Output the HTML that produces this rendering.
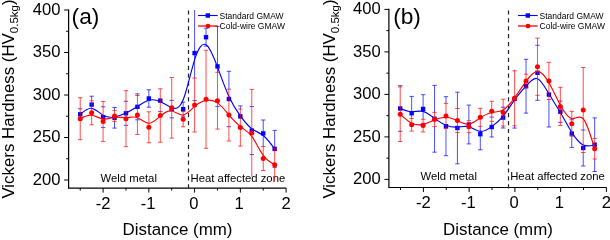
<!DOCTYPE html>
<html><head><meta charset="utf-8"><style>
html,body{margin:0;padding:0;background:#fff;width:610px;height:239px;overflow:hidden}
svg{display:block;font-family:"Liberation Sans", sans-serif;will-change:transform}
</style></head><body>
<svg width="610" height="239" viewBox="0 0 610 239" font-family='"Liberation Sans", sans-serif' fill="#000">
<g transform="translate(0.00 0.00)">
<path d="M68.60 9.4 V188.10 H286.10" stroke="#000" stroke-width="1.2" fill="none"/>
<path d="M64.10 180.00 H68.60 M64.10 137.50 H68.60 M64.10 95.00 H68.60 M64.10 52.50 H68.60 M64.10 10.00 H68.60 M66.10 158.75 H68.60 M66.10 116.25 H68.60 M66.10 73.75 H68.60 M66.10 31.25 H68.60 M103.10 188.10 V192.60 M148.85 188.10 V192.60 M194.60 188.10 V192.60 M240.35 188.10 V192.60 M286.10 188.10 V192.60 M80.22 188.10 V190.60 M125.97 188.10 V190.60 M171.72 188.10 V190.60 M217.47 188.10 V190.60 M263.23 188.10 V190.60" stroke="#000" stroke-width="1" fill="none"/>
<text x="60.40" y="184.90" font-size="16.6" text-anchor="end">200</text>
<text x="60.40" y="142.40" font-size="16.6" text-anchor="end">250</text>
<text x="60.40" y="99.90" font-size="16.6" text-anchor="end">300</text>
<text x="60.40" y="57.40" font-size="16.6" text-anchor="end">350</text>
<text x="60.40" y="14.90" font-size="16.6" text-anchor="end">400</text>
<text x="103.10" y="208.60" font-size="16.6" text-anchor="middle">-2</text>
<text x="148.05" y="208.60" font-size="16.6" text-anchor="middle">-1</text>
<text x="193.80" y="208.60" font-size="16.6" text-anchor="middle">0</text>
<text x="239.05" y="208.60" font-size="16.6" text-anchor="middle">1</text>
<text x="286.10" y="208.60" font-size="16.6" text-anchor="middle">2</text>
</g>
<text x="177.50" y="235.3" font-size="16.9" text-anchor="middle">Distance (mm)</text>
<text transform="translate(13.60 99) rotate(-90)" font-size="16.85" text-anchor="middle">Vickers Hardness (HV<tspan font-size="11.5" dy="4">0.5kg</tspan><tspan dy="-4">)</tspan></text>
<path d="M188.50 10.4 V188.5" stroke="#222" stroke-width="1.2" stroke-dasharray="4.2 3.7" fill="none"/>
<text x="71.60" y="24.10" font-size="22.7">(a)</text>
<text x="100.60" y="181.50" font-size="11.3">Weld metal</text>
<text x="190.60" y="181.50" font-size="11.3">Heat affected zone</text>
<path d="M78.02 108.80 H82.42 M78.02 119.80 H82.42 M91.66 96.20 V100.80 M89.46 96.20 H93.86 M89.46 113.00 H93.86 M100.90 106.80 H105.30 M100.90 127.60 H105.30 M114.54 107.50 V110.40 M114.54 121.40 V128.10 M112.34 107.50 H116.74 M112.34 128.10 H116.74 M123.77 101.30 H128.17 M123.77 125.30 H128.17 M137.41 93.80 V95.50 M135.21 93.80 H139.61 M135.21 119.80 H139.61 M148.85 89.80 V107.20 M146.65 89.80 H151.05 M146.65 107.20 H151.05 M158.09 111.60 H162.49 M169.53 100.40 H173.92 M169.53 117.80 H173.92 M183.16 102.20 V111.60 M180.96 102.20 H185.36 M180.96 116.20 H185.36 M194.60 10.00 V78.00 M192.40 100.60 H196.80 M206.04 28.20 V46.20 M203.84 28.20 H208.24 M203.84 46.20 H208.24 M217.47 26.40 V72.30 M215.28 26.40 H219.67 M215.28 106.40 H219.67 M228.91 71.30 V89.20 M226.71 71.30 H231.11 M226.71 126.70 H231.11 M240.35 105.90 V109.10 M238.15 105.90 H242.55 M238.15 126.90 H242.55 M249.59 106.60 H253.99 M249.59 154.60 H253.99 M263.23 120.00 V146.50 M261.03 120.00 H265.43 M274.66 130.40 V148.20 M272.46 130.40 H276.86 M272.46 167.40 H276.86" stroke="#0000ff" stroke-width="0.7" fill="none"/>
<path d="M80.23 114.30 C84.04 111.07 87.85 107.83 91.66 108.32 C95.47 108.80 99.29 113.00 103.10 115.20 C106.91 117.40 110.72 117.60 114.54 116.95 C118.35 116.30 122.16 114.80 125.98 112.97 C129.79 111.13 133.60 108.97 137.41 106.50 C141.22 104.03 145.04 101.27 148.85 100.23 C152.66 99.20 156.47 99.90 160.29 101.67 C164.10 103.43 167.91 106.27 171.72 107.70 C175.54 109.13 179.35 109.17 183.16 99.83 C186.97 90.50 190.79 71.80 194.60 59.80 C198.41 47.80 202.22 42.50 206.04 44.72 C209.85 46.93 213.66 56.67 217.47 66.97 C221.29 77.27 225.10 88.13 228.91 96.47 C232.72 104.80 236.54 110.60 240.35 115.87 C244.16 121.13 247.97 125.87 251.79 128.70 C255.60 131.53 259.41 132.47 263.22 135.52 C267.04 138.57 270.85 143.73 274.66 148.90" stroke="#0000ff" stroke-width="1.15" fill="none"/>
<rect x="78.02" y="112.10" width="4.4" height="4.4" fill="#0000ff"/>
<rect x="89.46" y="102.40" width="4.4" height="4.4" fill="#0000ff"/>
<rect x="100.90" y="115.00" width="4.4" height="4.4" fill="#0000ff"/>
<rect x="112.34" y="115.60" width="4.4" height="4.4" fill="#0000ff"/>
<rect x="123.77" y="111.10" width="4.4" height="4.4" fill="#0000ff"/>
<rect x="135.21" y="104.60" width="4.4" height="4.4" fill="#0000ff"/>
<rect x="146.65" y="96.30" width="4.4" height="4.4" fill="#0000ff"/>
<rect x="158.09" y="98.40" width="4.4" height="4.4" fill="#0000ff"/>
<rect x="169.53" y="106.90" width="4.4" height="4.4" fill="#0000ff"/>
<rect x="180.96" y="107.00" width="4.4" height="4.4" fill="#0000ff"/>
<rect x="192.40" y="50.90" width="4.4" height="4.4" fill="#0000ff"/>
<rect x="203.84" y="35.00" width="4.4" height="4.4" fill="#0000ff"/>
<rect x="215.28" y="64.20" width="4.4" height="4.4" fill="#0000ff"/>
<rect x="226.71" y="96.80" width="4.4" height="4.4" fill="#0000ff"/>
<rect x="238.15" y="114.20" width="4.4" height="4.4" fill="#0000ff"/>
<rect x="249.59" y="128.40" width="4.4" height="4.4" fill="#0000ff"/>
<rect x="261.03" y="131.20" width="4.4" height="4.4" fill="#0000ff"/>
<rect x="272.46" y="146.70" width="4.4" height="4.4" fill="#0000ff"/>
<path d="M80.22 97.70 V139.70 M78.02 97.70 H82.42 M78.02 139.70 H82.42 M91.66 100.80 V124.80 M89.46 100.80 H93.86 M89.46 124.80 H93.86 M103.10 101.40 V141.40 M100.90 101.40 H105.30 M100.90 141.40 H105.30 M114.54 110.40 V121.40 M112.34 110.40 H116.74 M112.34 121.40 H116.74 M125.97 90.70 V146.70 M123.77 90.70 H128.17 M123.77 146.70 H128.17 M137.41 95.50 V134.50 M135.21 95.50 H139.61 M135.21 134.50 H139.61 M148.85 111.80 V142.80 M146.65 111.80 H151.05 M146.65 142.80 H151.05 M160.29 88.80 V142.20 M158.09 88.80 H162.49 M158.09 142.20 H162.49 M171.72 77.50 V138.10 M169.53 77.50 H173.92 M169.53 138.10 H173.92 M183.16 111.60 V126.80 M180.96 111.60 H185.36 M180.96 126.80 H185.36 M194.60 78.00 V132.00 M192.40 78.00 H196.80 M192.40 132.00 H196.80 M206.04 50.30 V148.30 M203.84 50.30 H208.24 M203.84 148.30 H208.24 M217.47 72.30 V129.10 M215.28 72.30 H219.67 M215.28 129.10 H219.67 M228.91 89.20 V141.00 M226.71 89.20 H231.11 M226.71 141.00 H231.11 M240.35 109.10 V146.10 M238.15 109.10 H242.55 M238.15 146.10 H242.55 M251.79 89.40 V176.80 M249.59 89.40 H253.99 M263.23 146.50 V170.50 M261.03 146.50 H265.43 M261.03 170.50 H265.43 M274.66 148.20 V181.20 M272.46 148.20 H276.86" stroke="#ff0000" stroke-width="0.7" fill="none"/>
<path d="M80.23 118.70 C84.04 116.73 87.85 114.77 91.66 115.22 C95.47 115.67 99.29 118.53 103.10 119.05 C106.91 119.57 110.72 117.73 114.54 117.28 C118.35 116.83 122.16 117.77 125.98 117.62 C129.79 117.47 133.60 116.23 137.41 117.67 C141.22 119.10 145.04 123.20 148.85 123.28 C152.66 123.37 156.47 119.43 160.29 116.18 C164.10 112.93 167.91 110.37 171.72 110.98 C175.54 111.60 179.35 115.40 183.16 114.93 C186.97 114.47 190.79 109.73 194.60 106.42 C198.41 103.10 202.22 101.20 206.04 100.48 C209.85 99.77 213.66 100.23 217.47 102.87 C221.29 105.50 225.10 110.30 228.91 114.78 C232.72 119.27 236.54 123.43 240.35 126.43 C244.16 129.43 247.97 131.27 251.79 136.42 C255.60 141.57 259.41 150.03 263.22 155.30 C267.04 160.57 270.85 162.63 274.66 164.70" stroke="#ff0000" stroke-width="1.15" fill="none"/>
<circle cx="80.22" cy="118.70" r="2.5" fill="#ff0000"/>
<circle cx="91.66" cy="112.80" r="2.5" fill="#ff0000"/>
<circle cx="103.10" cy="121.40" r="2.5" fill="#ff0000"/>
<circle cx="114.54" cy="115.90" r="2.5" fill="#ff0000"/>
<circle cx="125.97" cy="118.70" r="2.5" fill="#ff0000"/>
<circle cx="137.41" cy="115.00" r="2.5" fill="#ff0000"/>
<circle cx="148.85" cy="127.30" r="2.5" fill="#ff0000"/>
<circle cx="160.29" cy="115.50" r="2.5" fill="#ff0000"/>
<circle cx="171.72" cy="107.80" r="2.5" fill="#ff0000"/>
<circle cx="183.16" cy="119.20" r="2.5" fill="#ff0000"/>
<circle cx="194.60" cy="105.00" r="2.5" fill="#ff0000"/>
<circle cx="206.04" cy="99.30" r="2.5" fill="#ff0000"/>
<circle cx="217.47" cy="100.70" r="2.5" fill="#ff0000"/>
<circle cx="228.91" cy="115.10" r="2.5" fill="#ff0000"/>
<circle cx="240.35" cy="127.60" r="2.5" fill="#ff0000"/>
<circle cx="251.79" cy="133.10" r="2.5" fill="#ff0000"/>
<circle cx="263.23" cy="158.50" r="2.5" fill="#ff0000"/>
<circle cx="274.66" cy="164.70" r="2.5" fill="#ff0000"/>
<path d="M198.00 15.5 H217.70" stroke="#0000ff" stroke-width="1.1"/>
<rect x="205.60" y="13.3" width="4.4" height="4.4" fill="#0000ff"/>
<path d="M198.00 26.0 H217.70" stroke="#ff0000" stroke-width="1.3"/>
<circle cx="208.00" cy="26.1" r="2.4" fill="#ff0000"/>
<text x="219.60" y="18.7" font-size="8.5">Standard GMAW</text>
<text x="219.60" y="29" font-size="8.5">Cold-wire GMAW</text>
<g transform="translate(0.30 -0.60)">
<path d="M388.60 9.4 V188.10 H606.10" stroke="#000" stroke-width="1.2" fill="none"/>
<path d="M384.10 180.00 H388.60 M384.10 137.50 H388.60 M384.10 95.00 H388.60 M384.10 52.50 H388.60 M384.10 10.00 H388.60 M386.10 158.75 H388.60 M386.10 116.25 H388.60 M386.10 73.75 H388.60 M386.10 31.25 H388.60 M423.10 188.10 V192.60 M468.85 188.10 V192.60 M514.60 188.10 V192.60 M560.35 188.10 V192.60 M606.10 188.10 V192.60 M400.23 188.10 V190.60 M445.98 188.10 V190.60 M491.73 188.10 V190.60 M537.48 188.10 V190.60 M583.23 188.10 V190.60" stroke="#000" stroke-width="1" fill="none"/>
<text x="380.40" y="184.90" font-size="16.6" text-anchor="end">200</text>
<text x="380.40" y="142.40" font-size="16.6" text-anchor="end">250</text>
<text x="380.40" y="99.90" font-size="16.6" text-anchor="end">300</text>
<text x="380.40" y="57.40" font-size="16.6" text-anchor="end">350</text>
<text x="380.40" y="14.90" font-size="16.6" text-anchor="end">400</text>
<text x="423.10" y="208.60" font-size="16.6" text-anchor="middle">-2</text>
<text x="468.05" y="208.60" font-size="16.6" text-anchor="middle">-1</text>
<text x="513.80" y="208.60" font-size="16.6" text-anchor="middle">0</text>
<text x="559.05" y="208.60" font-size="16.6" text-anchor="middle">1</text>
<text x="606.10" y="208.60" font-size="16.6" text-anchor="middle">2</text>
</g>
<text x="497.98" y="235.3" font-size="16.9" text-anchor="middle">Distance (mm)</text>
<text transform="translate(334.56 99) rotate(-90)" font-size="16.85" text-anchor="middle">Vickers Hardness (HV<tspan font-size="11.5" dy="4">0.5kg</tspan><tspan dy="-4">)</tspan></text>
<path d="M508.50 10.4 V188.5" stroke="#222" stroke-width="1.2" stroke-dasharray="4.2 3.7" fill="none"/>
<text x="393.20" y="24.10" font-size="22.7">(b)</text>
<text x="420.60" y="179.80" font-size="11.3">Weld metal</text>
<text x="510.20" y="179.80" font-size="11.3">Heat affected zone</text>
<path d="M400.23 85.70 V86.90 M398.03 85.70 H402.43 M398.03 131.30 H402.43 M411.66 96.40 V118.50 M409.46 96.40 H413.86 M423.10 94.70 V119.30 M420.90 94.70 H425.30 M420.90 123.30 H425.30 M434.54 85.40 V112.40 M434.54 126.40 V152.20 M432.34 85.40 H436.74 M432.34 152.20 H436.74 M445.98 96.70 V103.40 M445.98 128.40 V155.70 M443.78 96.70 H448.18 M443.78 155.70 H448.18 M457.41 92.20 V108.50 M457.41 132.50 V163.80 M455.21 92.20 H459.61 M455.21 163.80 H459.61 M468.85 105.10 V120.70 M468.85 132.70 V143.90 M466.65 105.10 H471.05 M466.65 143.90 H471.05 M480.29 126.30 V149.80 M478.09 118.60 H482.49 M478.09 149.80 H482.49 M491.73 121.30 V137.00 M489.53 117.00 H493.93 M489.53 137.00 H493.93 M503.16 126.00 V128.00 M500.96 107.20 H505.36 M500.96 128.00 H505.36 M514.60 69.70 V70.80 M514.60 125.80 V128.10 M512.40 128.10 H516.80 M526.04 59.30 V74.20 M526.04 87.60 V113.10 M523.84 59.30 H528.24 M523.84 113.10 H528.24 M537.48 95.30 V100.30 M535.27 45.30 H539.68 M535.27 100.30 H539.68 M548.91 62.20 V62.30 M548.91 99.50 V127.00 M546.71 127.00 H551.11 M558.15 101.10 H562.55 M558.15 122.30 H562.55 M571.79 136.20 V147.40 M569.59 119.80 H573.99 M569.59 147.40 H573.99 M583.23 152.50 V166.00 M581.02 130.00 H585.43 M581.02 166.00 H585.43 M594.66 117.90 V138.40 M594.66 159.00 V171.50 M592.46 117.90 H596.86 M592.46 171.50 H596.86" stroke="#0000ff" stroke-width="0.7" fill="none"/>
<path d="M400.22 108.50 C404.04 110.07 407.85 111.63 411.66 111.72 C415.48 111.80 419.29 110.40 423.10 111.33 C426.91 112.27 430.73 115.53 434.54 118.40 C438.35 121.27 442.16 123.73 445.97 125.27 C449.79 126.80 453.60 127.40 457.41 127.12 C461.23 126.83 465.04 125.67 468.85 126.70 C472.66 127.73 476.48 130.97 480.29 131.38 C484.10 131.80 487.91 129.40 491.72 126.63 C495.54 123.87 499.35 120.73 503.16 116.05 C506.98 111.37 510.79 105.13 514.60 99.90 C518.41 94.67 522.23 90.43 526.04 86.08 C529.85 81.73 533.66 77.27 537.48 78.67 C541.29 80.07 545.10 87.33 548.91 93.82 C552.73 100.30 556.54 106.00 560.35 112.50 C564.16 119.00 567.98 126.30 571.79 132.35 C575.60 138.40 579.41 143.20 583.23 145.05 C587.04 146.90 590.85 145.80 594.66 144.70" stroke="#0000ff" stroke-width="1.15" fill="none"/>
<rect x="398.03" y="106.30" width="4.4" height="4.4" fill="#0000ff"/>
<rect x="409.46" y="111.00" width="4.4" height="4.4" fill="#0000ff"/>
<rect x="420.90" y="106.80" width="4.4" height="4.4" fill="#0000ff"/>
<rect x="432.34" y="116.60" width="4.4" height="4.4" fill="#0000ff"/>
<rect x="443.78" y="124.00" width="4.4" height="4.4" fill="#0000ff"/>
<rect x="455.21" y="125.80" width="4.4" height="4.4" fill="#0000ff"/>
<rect x="466.65" y="122.30" width="4.4" height="4.4" fill="#0000ff"/>
<rect x="478.09" y="132.00" width="4.4" height="4.4" fill="#0000ff"/>
<rect x="489.53" y="124.80" width="4.4" height="4.4" fill="#0000ff"/>
<rect x="500.96" y="115.40" width="4.4" height="4.4" fill="#0000ff"/>
<rect x="512.40" y="96.70" width="4.4" height="4.4" fill="#0000ff"/>
<rect x="523.84" y="84.00" width="4.4" height="4.4" fill="#0000ff"/>
<rect x="535.27" y="70.60" width="4.4" height="4.4" fill="#0000ff"/>
<rect x="546.71" y="92.40" width="4.4" height="4.4" fill="#0000ff"/>
<rect x="558.15" y="109.50" width="4.4" height="4.4" fill="#0000ff"/>
<rect x="569.59" y="131.40" width="4.4" height="4.4" fill="#0000ff"/>
<rect x="581.02" y="145.80" width="4.4" height="4.4" fill="#0000ff"/>
<rect x="592.46" y="142.50" width="4.4" height="4.4" fill="#0000ff"/>
<path d="M400.23 86.90 V141.50 M398.03 86.90 H402.43 M398.03 141.50 H402.43 M411.66 118.50 V131.10 M409.46 118.50 H413.86 M409.46 131.10 H413.86 M423.10 119.30 V131.90 M420.90 119.30 H425.30 M420.90 131.90 H425.30 M434.54 112.40 V126.40 M432.34 112.40 H436.74 M432.34 126.40 H436.74 M445.98 103.40 V128.40 M443.78 103.40 H448.18 M443.78 128.40 H448.18 M457.41 108.50 V132.50 M455.21 108.50 H459.61 M455.21 132.50 H459.61 M468.85 120.70 V132.70 M466.65 120.70 H471.05 M466.65 132.70 H471.05 M480.29 108.30 V126.30 M478.09 108.30 H482.49 M478.09 126.30 H482.49 M491.73 101.30 V121.30 M489.53 101.30 H493.93 M489.53 121.30 H493.93 M503.16 99.20 V126.00 M500.96 99.20 H505.36 M500.96 126.00 H505.36 M514.60 70.80 V125.80 M512.40 70.80 H516.80 M512.40 125.80 H516.80 M526.04 74.20 V87.60 M523.84 74.20 H528.24 M523.84 87.60 H528.24 M537.48 38.10 V95.30 M535.27 38.10 H539.68 M535.27 95.30 H539.68 M548.91 62.30 V99.50 M546.71 62.30 H551.11 M546.71 99.50 H551.11 M560.35 87.30 V125.50 M558.15 87.30 H562.55 M558.15 125.50 H562.55 M571.79 111.40 V136.20 M569.59 111.40 H573.99 M569.59 136.20 H573.99 M583.23 67.50 V152.50 M581.02 67.50 H585.43 M581.02 152.50 H585.43 M594.66 138.40 V159.00 M592.46 138.40 H596.86 M592.46 159.00 H596.86" stroke="#ff0000" stroke-width="0.7" fill="none"/>
<path d="M400.22 114.20 C404.04 117.73 407.85 121.27 411.66 123.17 C415.48 125.07 419.29 125.33 423.10 124.43 C426.91 123.53 430.73 121.47 434.54 119.85 C438.35 118.23 442.16 117.07 445.97 117.25 C449.79 117.43 453.60 118.97 457.41 120.77 C461.23 122.57 465.04 124.63 468.85 124.10 C472.66 123.57 476.48 120.43 480.29 117.87 C484.10 115.30 487.91 113.30 491.72 112.52 C495.54 111.73 499.35 112.17 503.16 110.00 C506.98 107.83 510.79 103.07 514.60 97.78 C518.41 92.50 522.23 86.70 526.04 81.43 C529.85 76.17 533.66 71.43 537.48 71.43 C541.29 71.43 545.10 76.17 548.91 82.78 C552.73 89.40 556.54 97.90 560.35 105.05 C564.16 112.20 567.98 118.00 571.79 118.60 C575.60 119.20 579.41 114.60 583.23 118.75 C587.04 122.90 590.85 135.80 594.66 148.70" stroke="#ff0000" stroke-width="1.15" fill="none"/>
<circle cx="400.23" cy="114.20" r="2.5" fill="#ff0000"/>
<circle cx="411.66" cy="124.80" r="2.5" fill="#ff0000"/>
<circle cx="423.10" cy="125.60" r="2.5" fill="#ff0000"/>
<circle cx="434.54" cy="119.40" r="2.5" fill="#ff0000"/>
<circle cx="445.98" cy="115.90" r="2.5" fill="#ff0000"/>
<circle cx="457.41" cy="120.50" r="2.5" fill="#ff0000"/>
<circle cx="468.85" cy="126.70" r="2.5" fill="#ff0000"/>
<circle cx="480.29" cy="117.30" r="2.5" fill="#ff0000"/>
<circle cx="491.73" cy="111.30" r="2.5" fill="#ff0000"/>
<circle cx="503.16" cy="112.60" r="2.5" fill="#ff0000"/>
<circle cx="514.60" cy="98.30" r="2.5" fill="#ff0000"/>
<circle cx="526.04" cy="80.90" r="2.5" fill="#ff0000"/>
<circle cx="537.48" cy="66.70" r="2.5" fill="#ff0000"/>
<circle cx="548.91" cy="80.90" r="2.5" fill="#ff0000"/>
<circle cx="560.35" cy="106.40" r="2.5" fill="#ff0000"/>
<circle cx="571.79" cy="123.80" r="2.5" fill="#ff0000"/>
<circle cx="583.23" cy="110.00" r="2.5" fill="#ff0000"/>
<circle cx="594.66" cy="148.70" r="2.5" fill="#ff0000"/>
<path d="M518.00 15.5 H537.70" stroke="#0000ff" stroke-width="1.1"/>
<rect x="525.60" y="13.3" width="4.4" height="4.4" fill="#0000ff"/>
<path d="M518.00 26.0 H537.70" stroke="#ff0000" stroke-width="1.3"/>
<circle cx="528.00" cy="26.1" r="2.4" fill="#ff0000"/>
<text x="539.60" y="18.7" font-size="8.5">Standard GMAW</text>
<text x="539.60" y="29" font-size="8.5">Cold-wire GMAW</text>
</svg>
</body></html>
